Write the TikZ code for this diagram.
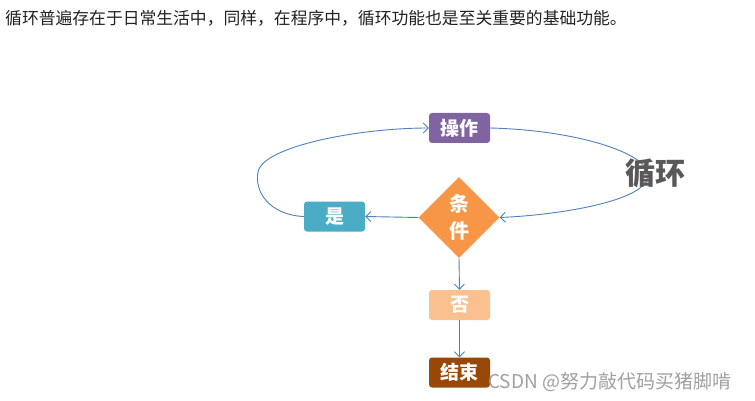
\documentclass[tikz,border=0pt]{standalone}
\usepackage{fontspec}
\setmainfont{Noto Sans CJK SC}
\usetikzlibrary{arrows.meta,shapes.geometric}
\definecolor{opc}{HTML}{8064A2}
\definecolor{yesc}{HTML}{4BACC6}
\definecolor{condc}{HTML}{F79646}
\definecolor{noc}{HTML}{FAC090}
\definecolor{endc}{HTML}{974806}
\definecolor{linec}{HTML}{4F81BD}
\definecolor{txtc}{HTML}{222222}
\definecolor{loopc}{HTML}{595959}
\definecolor{wmc}{HTML}{A0A0A0}
\tikzset{
  boxnode/.style={rounded corners=3pt, minimum width=61pt, minimum height=30pt, inner sep=0pt, text=white, font=\fontsize{19}{21}\selectfont\bfseries},
  condnode/.style={diamond, fill=condc, minimum width=81pt, minimum height=81pt, inner sep=0pt, text=white, align=center, font=\fontsize{20}{27}\selectfont\bfseries},
  conn/.style={draw=linec, line width=0.9pt, -{Straight Barb[length=5pt,width=10pt,line width=0.9pt]}},
}
\begin{document}
\begin{tikzpicture}[x=1pt,y=-1pt]
\useasboundingbox (0,0) rectangle (755,401);
\fill[white] (0,0) rectangle (755,401);
\node[anchor=west, text=txtc, inner sep=0pt, font=\fontsize{16.8}{18}\selectfont] (intro) at (5,18) {循环普遍存在于日常生活中，同样，在程序中，循环功能也是至关重要的基础功能。};
\node[boxnode, fill=opc] (op) at (459.5,128) {操作};
\node[boxnode, fill=yesc] (yes) at (334.5,216.5) {是};
\node[condnode] (cond) at (459,217.5) {条\\件};
\node[boxnode, fill=noc] (no) at (459.5,305) {否};
\node[boxnode, fill=endc] (end) at (459.5,372.5) {结束};
\draw[conn] (cond.west) -- (yes.east);
\draw[conn] (yes.west) .. controls (270,215) and (254,192) .. (258,172) .. controls (263,146) and (360,128) .. (op.west);
\draw[conn] (op.east) .. controls (570,130) and (640,150) .. (648,172) .. controls (655,200) and (560,215) .. (cond.east);
\draw[conn] (cond.south) -- (no.north);
\draw[conn] (no.south) -- (end.north);
\node[text=loopc, inner sep=0pt, font=\fontsize{30}{32}\selectfont\bfseries] (loop) at (655,173) {循环};
\node[anchor=west, text=wmc, inner sep=0pt, font=\fontsize{19}{21}\selectfont] (wm) at (488,382) {CSDN @努力敲代码买猪脚啃};
\end{tikzpicture}
\end{document}
